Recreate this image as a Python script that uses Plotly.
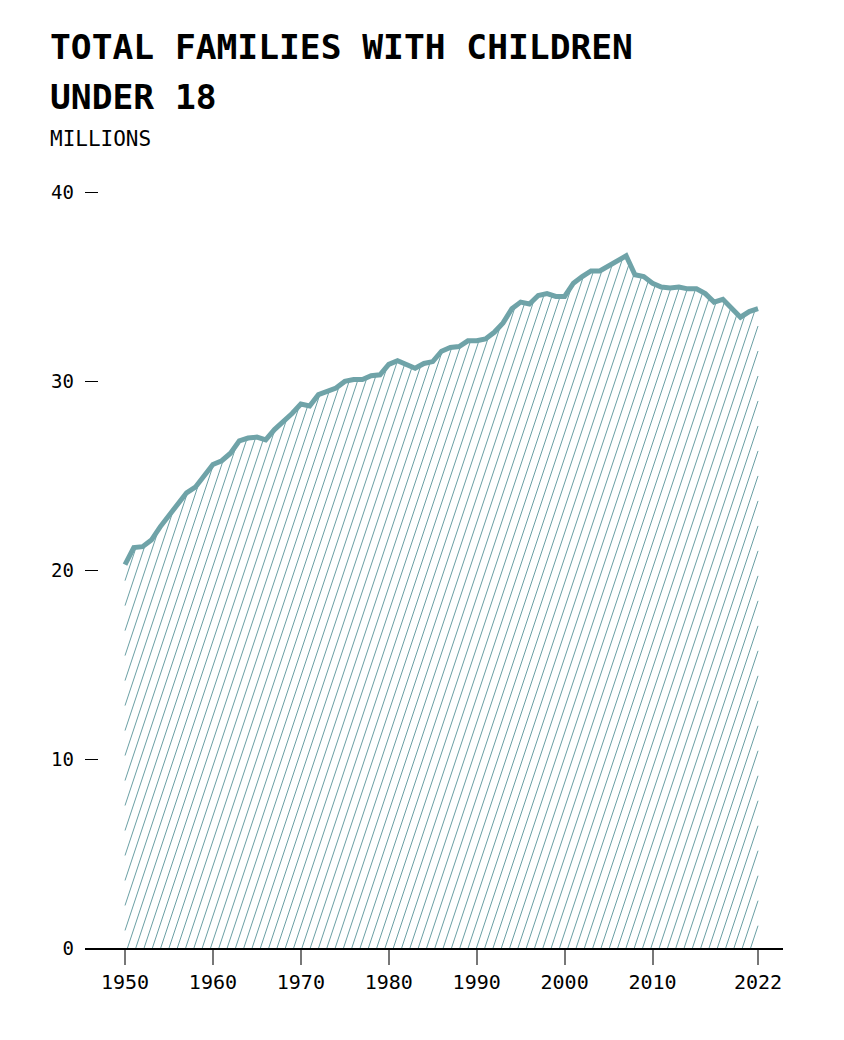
import numpy as np
import plotly.graph_objects as go

years = list(range(1950, 2023))
families = [
    20.3, 21.2, 21.25, 21.6, 22.3, 22.9, 23.5, 24.1, 24.4, 24.95,
    25.6, 25.8, 26.2, 26.85, 27.0, 27.05, 26.9, 27.45, 27.85, 28.3,
    28.8, 28.7, 29.3, 29.45, 29.65, 30.0, 30.1, 30.1, 30.3, 30.35,
    30.9, 31.1, 30.9, 30.7, 30.95, 31.05, 31.6, 31.8, 31.85, 32.15,
    32.15, 32.25, 32.6, 33.1, 33.85, 34.2, 34.1, 34.55, 34.65, 34.5,
    34.5, 35.2, 35.55, 35.85, 35.85, 36.1, 36.35, 36.65, 35.65, 35.55,
    35.2, 35.0, 34.95, 35.0, 34.9, 34.9, 34.65, 34.2, 34.35, 33.9,
    33.4, 33.7, 33.85,
]
x_tickvals = [1950, 1960, 1970, 1980, 1990, 2000, 2010, 2022]
y_tickvals = [0, 10, 20, 30, 40]

LINE = "#6fa3a8"
HATCH = "#6a9fa4"
FONT = "DejaVu Sans Mono"

# hatch decoration derived from the data curve
xs = np.array(years, dtype=float)
ys = np.array(families, dtype=float)
k = 1.40          # slope of hatch lines in data units per year
step = 0.945      # horizontal spacing in years
fine_x = np.linspace(xs[0], xs[-1], 14401)
fine_y = np.interp(fine_x, xs, ys)
hx, hy = [], []
c = xs[0] - ys.max() / k - step
while c < xs[-1]:
    x0 = max(xs[0], c)
    y0 = k * (x0 - c)
    line_y = k * (fine_x - c)
    mask = (fine_x >= x0) & (line_y >= fine_y)
    if y0 < np.interp(x0, xs, ys):
        if mask.any():
            x1 = fine_x[np.argmax(mask)]
        else:
            x1 = xs[-1]
        y1 = k * (x1 - c)
        hx += [x0, x1, None]
        hy += [y0, y1, None]
    c += step

fig = go.Figure()
fig.add_trace(go.Scatter(x=hx, y=hy, mode="lines",
                         line=dict(color=HATCH, width=1),
                         hoverinfo="skip", showlegend=False))
fig.add_trace(go.Scatter(x=years, y=families, mode="lines",
                         line=dict(color=LINE, width=5),
                         showlegend=False))

ytop = 40.4
top_px = 193 - (ytop - 40) * 18.875
plot_h = 948 - top_px

def ypaper(px):
    return (948 - px) / plot_h

fig.update_layout(
    width=844, height=1040,
    margin=dict(l=85, r=61, t=top_px, b=92),
    paper_bgcolor="white", plot_bgcolor="white",
    font=dict(family=FONT, color="black"),
    xaxis=dict(range=[1945.45, 2024.84], tickvals=x_tickvals,
               ticks="outside", ticklen=15, tickcolor="#777", tickwidth=1.5,
               showline=True, linecolor="black", linewidth=2,
               showgrid=False, zeroline=False,
               tickfont=dict(size=20, family=FONT, color="black")),
    yaxis=dict(range=[0, ytop], tickvals=y_tickvals,
               ticks="inside", ticklen=13, tickcolor="black", tickwidth=1,
               showline=False, showgrid=False, zeroline=False,
               ticklabelstandoff=10,
               tickfont=dict(size=19, family=FONT, color="black")),
    annotations=[
        dict(text="<b>TOTAL FAMILIES WITH CHILDREN</b>", xref="paper", yref="paper",
             x=-0.053, y=ypaper(48), xanchor="left", yanchor="middle", showarrow=False,
             font=dict(size=34.6, family=FONT, color="black")),
        dict(text="<b>UNDER 18</b>", xref="paper", yref="paper",
             x=-0.053, y=ypaper(98), xanchor="left", yanchor="middle", showarrow=False,
             font=dict(size=34.6, family=FONT, color="black")),
        dict(text="MILLIONS", xref="paper", yref="paper",
             x=-0.053, y=ypaper(139), xanchor="left", yanchor="middle", showarrow=False,
             font=dict(size=21, family=FONT, color="black")),
    ],
)

fig.write_html("out.html")
